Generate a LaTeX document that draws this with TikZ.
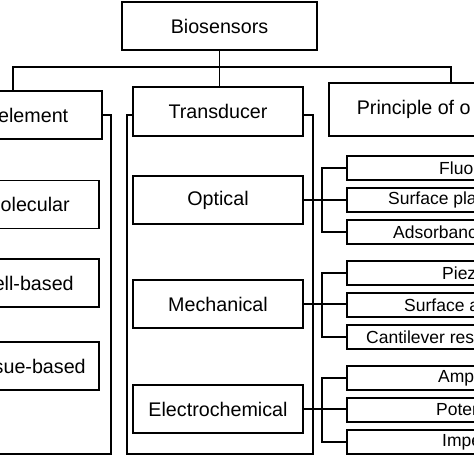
\documentclass[tikz,border=0pt]{standalone}
\usepackage{fontspec}
\setmainfont{Liberation Sans}
\usetikzlibrary{positioning}

\begin{document}
\begin{tikzpicture}[x=1pt,y=-1pt]
\tikzstyle{every node}=[font=\fontsize{19.7}{23}\selectfont, inner sep=0pt]
\tikzstyle{headbox}=[rectangle, draw=black, line width=2.8pt]
\tikzstyle{midbox}=[rectangle, draw=black, line width=1.8pt, minimum width=170pt, minimum height=48pt]
\tikzstyle{leftbox}=[rectangle, draw=black, line width=1.8pt, minimum width=160pt, minimum height=48pt]
\tikzstyle{subbox}=[rectangle, draw=black, line width=1.6pt, anchor=west, minimum width=200pt, minimum height=24pt]
\tikzstyle{subtext}=[anchor=west, font=\fontsize{17.5}{20}\selectfont]
\tikzstyle{conn}=[line width=1.4pt]

\useasboundingbox (0,0) rectangle (474,474);
\clip (0,0) rectangle (474,474);

% top level
\node[headbox, minimum width=195pt, minimum height=48pt] at (219.5,26) (bio) {Biosensors};

\node[headbox, minimum width=178pt, minimum height=48pt,
label={[anchor=east, xshift=-35pt]east:element}] at (13,115) (elem) {};
\node[headbox, minimum width=170pt, minimum height=49pt] at (218,111.5) (trans) {Transducer};
\node[headbox, minimum width=244pt, minimum height=53pt,
label={[anchor=west, xshift=29pt]west:Principle of o}] at (451,109.5) (princ) {};

\coordinate (bus) at (219.5,67);
\draw[conn] (bio.south) -- (bio.south |- trans.north);
\draw[conn] (elem.north) |- (bus) -| (princ.north);

% recognition elements
\node[leftbox, label={[anchor=east, xshift=-30pt]east:olecular}] at (19,204.5) (mol) {};
\node[leftbox, label={[anchor=east, xshift=-26pt]east:ell-based}] at (19,283) (cell) {};
\node[leftbox, label={[anchor=east, xshift=-14pt]east:sue-based}] at (19,366) (tis) {};

\coordinate (ebr) at (111,454);
\coordinate (ebl) at (-5,454);
\draw[conn] (elem.east) -| (ebr) -- (ebl);

% transducers
\node[midbox] at (218,200) (opt) {Optical};
\node[midbox] at (218,304) (mech) {Mechanical};
\node[midbox] at (218,409) (elec) {Electrochemical};

\coordinate (tbl) at (127,454);
\coordinate (tbr) at (313,454);
\draw[conn] ([yshift=-3.5pt]trans.west) -| (tbl) -- (tbr) |- ([yshift=-3.5pt]trans.east);

% principles
\node[subbox, label={[subtext, xshift=93pt]west:Fluo}] at (346,168) (fluo) {};
\node[subbox, label={[subtext, xshift=42pt]west:Surface pla}] at (346,200) (spr) {};
\node[subbox, label={[subtext, xshift=47pt]west:Adsorbanc}] at (346,232) (ads) {};

\node[subbox, label={[subtext, xshift=96pt]west:Piez}] at (346,273) (piez) {};
\node[subbox, label={[subtext, xshift=58pt]west:Surface a}] at (346,305) (saw) {};
\node[subbox, label={[subtext, xshift=20pt]west:Cantilever res}] at (346,337) (cant) {};

\node[subbox, label={[subtext, xshift=92pt]west:Amp}] at (346,378) (amp) {};
\node[subbox, label={[subtext, xshift=90pt]west:Poten}] at (346,410) (pot) {};
\node[subbox, label={[subtext, xshift=96pt]west:Impe}] at (346,442) (imp) {};

\draw[conn] (opt.east) -- (spr.west);
\draw[conn] (fluo.west) -- ++(-24,0) |- (ads.west);
\draw[conn] (mech.east) -- (mech.east -| saw.west);
\draw[conn] (piez.west) -- ++(-24,0) |- (cant.west);
\draw[conn] (elec.east) -- (elec.east -| pot.west);
\draw[conn] (amp.west) -- ++(-24,0) |- (imp.west);

\end{tikzpicture}
\end{document}
